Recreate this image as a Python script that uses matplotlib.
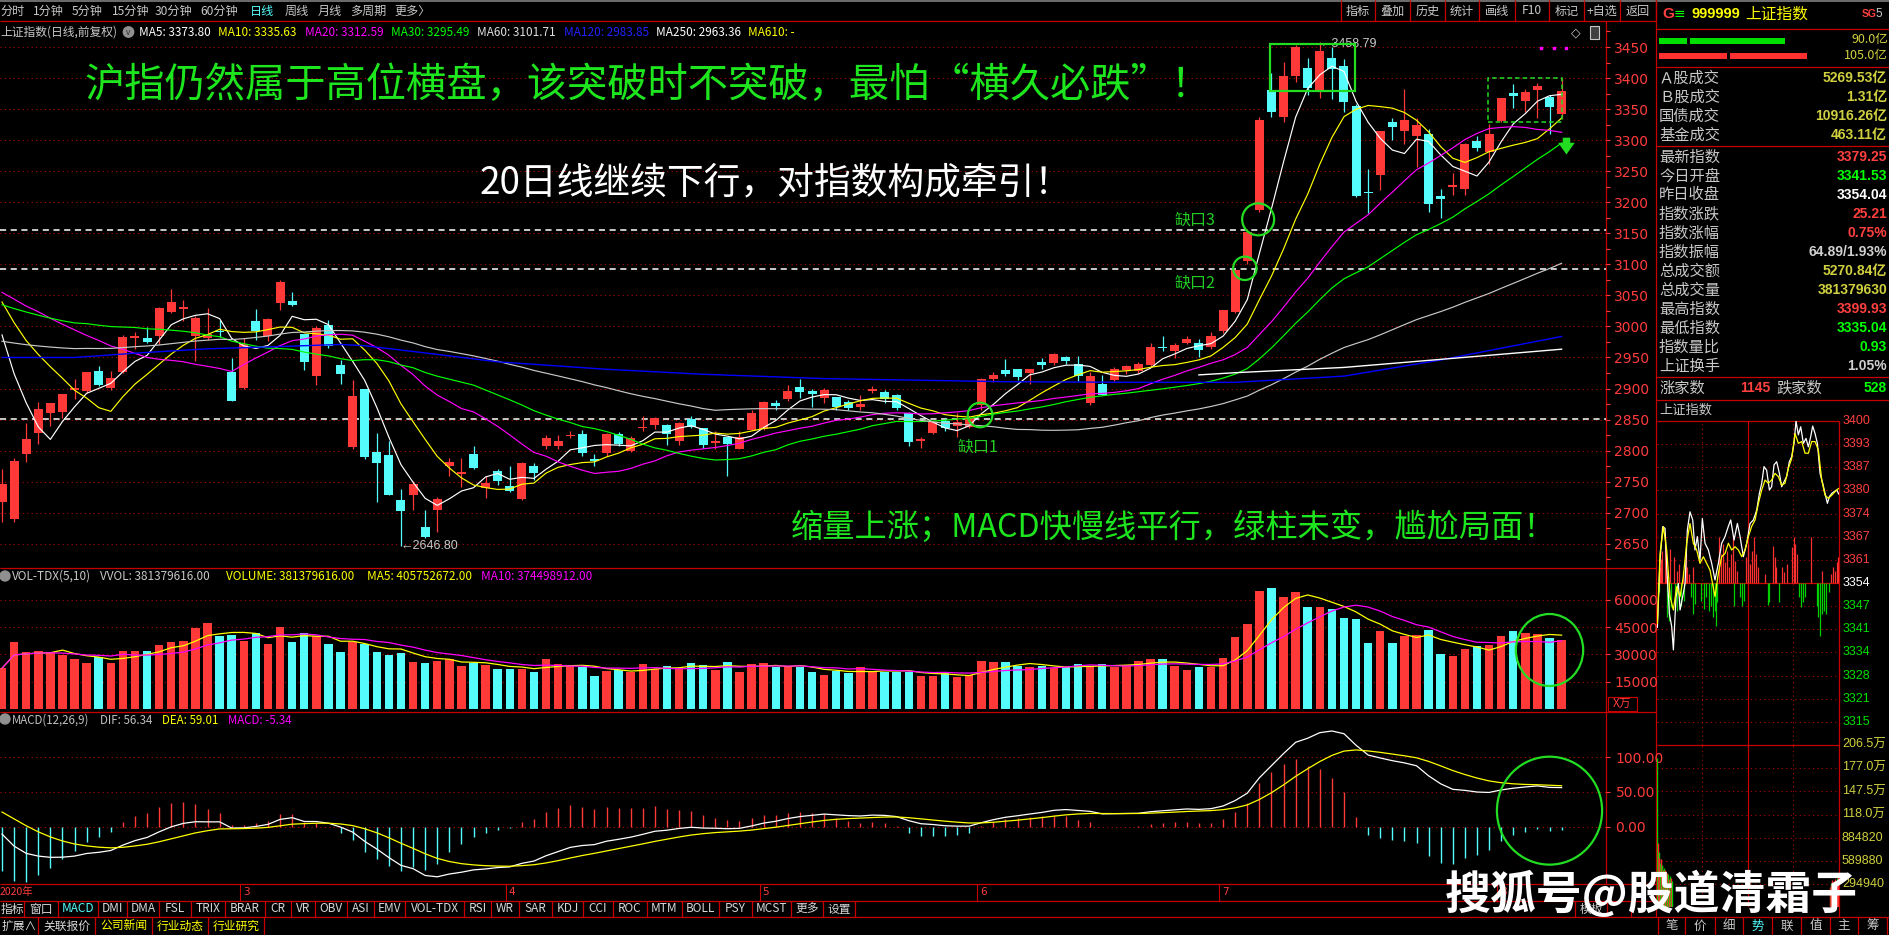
import numpy as np
import pandas as pd
import matplotlib
matplotlib.use("Agg")
import matplotlib.pyplot as plt
from matplotlib.patches import Rectangle, Ellipse
from matplotlib.transforms import blended_transform_factory

plt.rcParams['font.family'] = ['Noto Sans CJK SC', 'DejaVu Sans']
plt.rcParams['axes.unicode_minus'] = False

# ---------------- data ----------------
# closes before the visible window (used only for the moving averages / MACD)
hist_closes = [2958.20, 2975.49, 2991.56, 2978.60, 2978.71, 2964.18, 2909.97, 2914.82, 2905.24, 2909.87,
               2891.34, 2909.20, 2933.99, 2911.05, 2903.64, 2885.29, 2906.17, 2907.06, 2903.19, 2889.69,
               2871.98, 2875.81, 2884.70, 2878.12, 2899.47, 2912.01, 2914.48, 2917.32, 2924.42, 2915.70,
               2967.68, 2984.39, 3022.42, 3017.04, 3017.07, 3004.94, 2962.75, 2982.68, 2981.88, 3007.35,
               3005.04, 3040.02, 3050.12, 3085.20, 3083.79, 3083.41, 3104.80, 3066.89, 3094.88, 3092.29,
               3115.57, 3106.82, 3090.04, 3074.08, 3075.50, 3095.79, 3052.14, 3060.75, 2976.53]

opens = [2716.70, 2690, 2794, 2828, 2861, 2863, 2897, 2896, 2928, 2901, 2927, 2982, 2981, 2984, 3024, 3028, 2984, 2981, 2993, 2926,
         2901, 3008, 2984, 3038, 3041, 2988, 2921, 3002, 2938, 2806, 2899, 2797, 2793, 2720, 2729, 2677, 2704, 2776, 2763, 2794, 2740, 2767,
         2743, 2722, 2775, 2807, 2807, 2824, 2827, 2786, 2796, 2827, 2799, 2837, 2841, 2842, 2816, 2851, 2836, 2812, 2822, 2802, 2833,
         2835, 2877, 2883, 2902, 2896, 2884, 2887, 2879, 2871, 2896, 2895, 2890, 2860, 2815, 2828, 2848, 2839, 2838,
         2874, 2915, 2930, 2931, 2925, 2942, 2941, 2951, 2940, 2876, 2908, 2914, 2930, 2929, 2938, 2966, 2961, 2973, 2973, 2967,
         2992, 3024, 3105, 3188, 3380, 3338, 3403, 3417, 3380, 3432, 3420, 3355, 3216, 3244, 3329, 3315, 3306, 3310, 3210, 3225, 3221, 3299, 3281,
         3331, 3376, 3363, 3380, 3370, 3341.53]
highs = [2770, 2788, 2844, 2878, 2877, 2891, 2915, 2927, 2936, 2928, 2986, 2991, 2999, 3032, 3060, 3042, 3017, 3029, 3011, 2949,
         2982, 3028, 3013, 3074, 3055, 2988, 3001, 3010, 2946, 2913, 2899, 2828, 2816, 2738, 2751, 2704, 2726, 2788, 2788, 2808, 2759, 2771,
         2775, 2782, 2780, 2825, 2825, 2831, 2834, 2795, 2828, 2830, 2823, 2855, 2854, 2843, 2846, 2855, 2837, 2832, 2822, 2832, 2866,
         2880, 2882, 2905, 2915, 2899, 2901, 2887, 2882, 2889, 2904, 2898, 2891, 2863, 2822, 2847, 2852, 2860, 2856,
         2917, 2927, 2948, 2932, 2931, 2949, 2958, 2952, 2953, 2927, 2922, 2934, 2938, 2943, 2973, 2985, 2973, 2984, 2979, 2991,
         3027, 3091, 3157, 3337, 3408, 3426, 3454, 3432, 3458.79, 3450, 3431, 3358, 3253, 3314.5, 3335, 3382, 3335, 3318, 3221, 3247, 3295, 3306, 3326,
         3368.5, 3390, 3382, 3392, 3373, 3399.93]
lows = [2685, 2685, 2781, 2810, 2840, 2852, 2883, 2893, 2904, 2898, 2925, 2963, 2974, 2972, 3022, 3009, 2945, 2978, 2983, 2880,
        2899, 2978, 2976, 3026, 3033, 2930, 2906, 2966, 2907, 2802, 2787, 2718, 2728, 2646.80, 2704, 2659, 2669, 2759, 2741, 2770, 2723, 2744,
        2733, 2721, 2753, 2802, 2802, 2820, 2791, 2776, 2792, 2808, 2797, 2832, 2835, 2809, 2809, 2836, 2804, 2803, 2759, 2802, 2833,
        2834, 2865, 2880, 2885, 2871, 2877, 2866, 2865, 2865, 2893, 2877, 2866, 2808, 2804, 2827, 2832, 2822, 2836,
        2866, 2911, 2921, 2913, 2908, 2932, 2938, 2939, 2912, 2873, 2890, 2912, 2924, 2925, 2934, 2960, 2949, 2971, 2951, 2964,
        2990, 3022, 3100, 3185, 3337, 3329, 3394, 3373, 3368, 3366, 3346, 3209, 3183, 3220, 3301, 3294, 3257, 3185, 3175, 3211, 3211, 3282, 3262,
        3330, 3351, 3345, 3335, 3310, 3335.04]
closes = [2746.61, 2783.29, 2818.09, 2866.51, 2875.96, 2890.49, 2901.67, 2926.90, 2906.07, 2917.01, 2983.62, 2984.97, 2975.40, 3030.15, 3039.67, 3031.23, 3013.05, 2987.93, 2991.33, 2880.30,
          2970.93, 2992.90, 3011.67, 3071.68, 3034.51, 2943.29, 2996.76, 2968.52, 2923.49, 2887.43, 2789.25, 2779.64, 2728.76, 2702.13, 2745.62, 2660.17, 2722.44, 2781.59, 2764.91, 2772.20, 2747.21, 2750.30,
          2734.52, 2780.64, 2763.99, 2820.76, 2815.37, 2825.90, 2796.63, 2783.05, 2827.28, 2811.17, 2819.94, 2838.49, 2852.55, 2827.01, 2843.98, 2838.50, 2808.53, 2815.49, 2810.02, 2822.44, 2860.08,
          2878.14, 2871.52, 2895.34, 2894.80, 2891.56, 2898.05, 2870.34, 2868.46, 2875.42, 2898.58, 2883.74, 2867.92, 2813.77, 2817.97, 2846.55, 2836.80, 2846.22, 2852.35,
          2915.43, 2921.40, 2923.37, 2919.25, 2930.80, 2937.77, 2956.11, 2943.75, 2920.90, 2919.74, 2890.03, 2931.75, 2935.87, 2939.32, 2967.63, 2965.27, 2970.62, 2979.55, 2961.52, 2984.67,
          3025.98, 3090.57, 3152.81, 3332.88, 3345.34, 3403.44, 3450.59, 3383.32, 3443.29, 3414.62, 3361.30, 3210.10, 3214.13, 3314.15, 3320.90, 3333.16, 3325.11, 3196.77, 3205.23, 3227.96, 3294.55, 3286.82, 3310.01,
          3367.97, 3371.69, 3377.56, 3386.46, 3354.04, 3379.25]
# volume, unit = 10^4 hands ("X万")
volumes = [22400, 37000, 31500, 32100, 31500, 29700, 27500, 25500, 28400, 25500,
           32100, 32100, 32100, 35200, 37000, 37300, 44700, 47400, 40100, 40700,
           37500, 41900, 35700, 45200, 37000, 41900, 40100, 35700, 31500, 37000,
           35600, 31500, 29700, 31000, 26000, 25500, 26600, 27500, 23600, 25100,
           24200, 22000, 22000, 22000, 20600, 27500, 24700, 24200, 23000, 18200,
           20900, 21500, 20600, 24700, 22000, 23600, 22300, 25100, 24200, 21500,
           26000, 20600, 24700, 25100, 23300, 23000, 23300, 20600, 18700, 20900,
           19600, 23000, 20600, 20600, 20600, 20600, 17900, 17900, 19600, 17800,
           18700, 26400, 26000, 26000, 23600, 22900, 23600, 22300, 22900, 24700,
           23600, 24700, 23300, 24200, 26400, 27300, 27500, 23600, 21400, 22900,
           23300, 27800, 39400, 46700, 64800, 66300, 61500, 64400, 56300, 56300,
           54800, 49900, 49300, 36500, 42600, 36500, 40100, 40700, 43500, 30200,
           29100, 33100, 34400, 35000, 40022.576, 43000, 41500, 41000, 39238.3744, 38137.9616]

# long moving averages (candle index, value)
ma120_idx = [0, 6, 11, 17, 22, 28, 30, 33, 36, 41, 50, 58, 68, 74, 83, 94, 102, 111, 119, 129]
ma120_val = [2950, 2950, 2957, 2964, 2967, 2971, 2969, 2962, 2955, 2943, 2931, 2923, 2916, 2914, 2911, 2910, 2910, 2920, 2946, 2983.85]
ma250_idx = [99, 102, 111, 119, 129]
ma250_val = [2922, 2925.5, 2934, 2947, 2963.36]

month_labels = ['2020年', '3', '4', '5', '6', '7', '8']
month_start = [0, 20, 42, 63, 81, 101, 124]

ma_legend = [('MA5: 3373.80', '#ffffff'), ('MA10: 3335.63', '#ffff00'), ('MA20: 3312.59', '#ff00ff'),
             ('MA30: 3295.49', '#00ff00'), ('MA60: 3101.71', '#e0e0e0'), ('MA120: 2983.85', '#2020ff'),
             ('MA250: 2963.36', '#ffffff'), ('MA610: -', '#ffff00')]
macd_legend = [('MACD(12,26,9)', '#c0c0c0'), ('DIF: 56.34', '#c0c0c0'), ('DEA: 59.01', '#ffff00'), ('MACD: -5.34', '#ff00ff')]

# intraday (right panel) : minute, price
intra_min = [0.5, 4.0, 7.5, 10.6, 12.8, 16.3, 19.4, 21.6, 25.1, 28.2, 30.4, 33.9, 37.0, 40.0, 43.5, 47.1, 50.1, 53.2, 56.7, 59.8,
             63.3, 67.7, 72.1, 76.5, 80.9, 85.3, 89.7, 94.1, 97.2, 101.6, 106.0, 109.5, 113.9, 118.3, 122.7, 127.1, 131.5, 135.0,
             138.1, 141.1, 144.6, 148.2, 151.2, 154.3, 157.8, 161.4, 164.4, 167.5, 171.0, 174.5, 177.6, 180.7, 183.3, 186.4, 189.5,
             193.0, 196.5, 199.6, 202.7, 205.3, 208.4, 211.5, 215.0, 218.5, 221.6, 224.7, 227.3, 230.4, 233.4, 237.0, 239.6]
intra_price = [3341.5, 3360.5, 3370.0, 3369.5, 3358.6, 3345.4, 3341.7, 3335.1, 3350.2, 3353.9, 3346.4, 3350.2, 3353.9, 3369.0, 3374.2,
               3371.9, 3363.4, 3367.2, 3360.5, 3372.3, 3365.3, 3363.4, 3359.6, 3354.9, 3359.6, 3365.3, 3367.2, 3370.1, 3371.9, 3366.2,
               3370.9, 3367.2, 3361.5, 3365.3, 3370.9, 3371.9, 3374.7, 3379.4, 3382.3, 3387.0, 3386.0, 3380.4, 3381.3, 3387.5, 3388.4,
               3385.1, 3381.3, 3382.7, 3384.2, 3388.4, 3389.8, 3393.6, 3399.9, 3396.0, 3398.3, 3393.6, 3395.0, 3392.6, 3395.5, 3398.5,
               3396.4, 3393.6, 3385.1, 3382.3, 3379.4, 3376.6, 3378.5, 3379.4, 3379.9, 3380.4, 3379.25]
lead_min = [0.5, 4.0, 8.4, 12.8, 17.2, 21.6, 26.0, 30.4, 34.7, 39.1, 43.5, 47.9, 52.3, 56.7, 61.1, 65.5, 69.9, 76.5, 80.9, 85.3, 89.7,
            94.1, 98.5, 102.9, 107.3, 111.7, 116.1, 120.5, 124.9, 129.3, 133.7, 138.1, 142.5, 146.8, 151.2, 155.6, 160.0, 164.4,
            168.8, 173.2, 177.6, 182.0, 186.4, 190.8, 195.2, 199.6, 204.0, 208.4, 212.8, 217.2, 221.6, 226.0, 230.4, 234.8, 239.2]
lead_price = [3342.6, 3362.4, 3370.0, 3363.4, 3350.2, 3346.4, 3353.0, 3350.2, 3355.8, 3365.3, 3370.9, 3365.3, 3363.4, 3359.6, 3361.5,
              3359.6, 3357.7, 3350.2, 3356.8, 3361.5, 3362.4, 3365.3, 3363.4, 3364.3, 3363.4, 3361.5, 3363.4, 3367.2, 3370.1, 3371.9,
              3376.6, 3380.4, 3383.2, 3382.3, 3383.2, 3385.1, 3384.2, 3381.8, 3382.3, 3386.5, 3389.3, 3396.4, 3393.6, 3394.1, 3390.8,
              3390.8, 3394.1, 3394.1, 3391.7, 3383.2, 3378.9, 3378.0, 3378.9, 3379.9, 3380.8]
breadth_min = [4, 4.9, 6.6, 10.6, 11.9, 17.2, 22.4, 26, 28.6, 33.9, 38.3, 40, 42.7, 47.1, 81.8, 84, 86.6, 89.3, 91.9, 94.5, 97.2, 99.8,
               102.4, 106, 117.4, 120, 122.7, 125.3, 128, 130.6, 133.2, 142.5, 152.6, 155.2, 157, 164.4, 167.5, 171, 178, 180.7, 182.5,
               184.2, 202.7, 217.2, 229, 231.7, 234.3, 237, 238.7,
               0.9, 3.1, 13.6, 15.4, 18, 23.3, 26.8, 31.2, 35.6, 44.4, 47.1, 50.6, 58.5, 62, 64.6, 68.2, 70.8, 73.4, 76.1, 77.8, 79.6,
               101.6, 109.5, 112.1, 114.8, 146.9, 148.2, 160.9, 187.7, 190.4, 193, 195.6, 210.6, 212.8, 215.4, 217.6, 220.3, 222.9, 226.4]
breadth_val = [4.4, 6.8, 9.2, 12.9, 8.2, 9.6, 7.3, 3.5, 5.4, 3.5, 8.2, 4.4, 2.5, 4.4, 12.9, 8.2, 11, 5.9, 9.2, 4.4, 8.2, 13.4,
               6.3, 3.5, 7.3, 11, 5.4, 9.2, 12.9, 8.2, 4.4, 2.5, 10.6, 7.3, 4.4, 4.4, 3.0, 5.4, 10.1, 12.9, 11,
               8.2, 12.9, 3.5, 2.5, 4.4, 3.5, 5.9, 7.3,
               -3.1, -2.6, -9.7, -10.7, -6.9, -5.5, -7.8, -6.4, -5.0, -4.1, -8.8, -5.9, -5.0, -7.4, -4.1, -7.8, -6.4, -9.7, -7.8, -12.1, -5.5,
               -6.4, -4.1, -6.4, -5.0, -6.1, -5.5, -5.5, -4.1, -6.9, -5.5, -4.1, -6.4, -9.7, -14.9, -8.8, -7.8, -8.8, -2.6]
ivol_min = [0, 1, 2, 3, 4, 5, 6, 7, 8, 9, 10, 11, 12, 13, 14, 15, 16, 17, 18, 19, 20,
            228, 229, 230, 231, 232, 233, 234, 235, 236, 237, 238, 239]
ivol_val = [1900000, 815000, 700000, 625000, 560000, 610000, 520000, 545000, 480000, 505000, 430000, 470000, 415000, 440000,
            380000, 420000, 360000, 395000, 340000, 372000, 330000,
            260000, 310000, 280000, 350000, 300000, 330000, 290000, 360000, 320000, 380000, 340000, 420000]
ivol_up = [0, 1, 0, 1, 0, 1, 1, 0, 1, 0, 0, 1, 0, 1, 1, 0, 1, 0, 1, 1, 0,
           1, 0, 1, 1, 0, 1, 0, 1, 1, 0, 1, 1]

prev_close = 3354.04
quote_rows = [('最新指数', '3379.25', '#ff4040'), ('今日开盘', '3341.53', '#00ff00'), ('昨日收盘', '3354.04', '#ffffff'),
              ('指数涨跌', '25.21', '#ff4040'), ('指数涨幅', '0.75%', '#ff4040'), ('指数振幅', '64.89/1.93%', '#d0d0d0'),
              ('总成交额', '5270.84亿', '#d0d040'), ('总成交量', '381379630', '#d0d040'), ('最高指数', '3399.93', '#ff4040'),
              ('最低指数', '3335.04', '#00ff00'), ('指数量比', '0.93', '#00ff00'), ('上证换手', '1.05%', '#d0d0d0')]
turnover_rows = [('Ａ股成交', '5269.53亿'), ('Ｂ股成交', '1.31亿'), ('国债成交', '10916.26亿'), ('基金成交', '463.11亿')]
gauge_green = [(1659, 28), (1690, 95)]
gauge_red = [(1659, 68), (1730, 77)]

# ---------------- styling constants ----------------
W, H = 1890, 935
RED = '#ff3838'
CYAN = '#54fcfc'
BORDER = '#c80000'
GRID = '#b00000'
LRED = '#ff3c3c'
GRAY = '#c8c8c8'
GREEN = '#1ee61e'
OLIVE = '#d0d040'
FONT = ['Noto Sans CJK SC', 'DejaVu Sans']
NUMF = ['Liberation Sans', 'Noto Sans CJK SC', 'DejaVu Sans']

fig = plt.figure(figsize=(W / 100, H / 100), dpi=100, facecolor='black')
ui = fig.add_axes([0, 0, 1, 1])
ui.set_xlim(0, W)
ui.set_ylim(H, 0)
ui.axis('off')
ui.set_zorder(0)


def pax(x0, y0, x1, y1, z=2):
    a = fig.add_axes([x0 / W, 1 - y1 / H, (x1 - x0) / W, (y1 - y0) / H])
    a.set_facecolor('none')
    a.set_zorder(z)
    for s in a.spines.values():
        s.set_visible(False)
    a.set_xticks([])
    a.set_yticks([])
    return a


def T(x, y, s, color=GRAY, size=8.7, ha='left', va='center', family=None, weight='normal', z=5):
    ui.text(x, y, s, color=color, fontsize=size, ha=ha, va=va, family=family or FONT, fontweight=weight, zorder=z)


def HL(y, x0, x1, color=BORDER, lw=0.9, ls='-'):
    ui.plot([x0, x1], [y, y], color=color, lw=lw, ls=ls, solid_capstyle='butt')


def VL(x, y0, y1, color=BORDER, lw=0.9, ls='-'):
    ui.plot([x, x], [y0, y1], color=color, lw=lw, ls=ls, solid_capstyle='butt')


n = len(closes)
idx = np.arange(n)
o = np.array(opens, float)
h = np.array(highs, float)
l = np.array(lows, float)
c = np.array(closes, float)
v = np.array(volumes, float)
up = c >= o
col = np.where(up, RED, CYAN)

allc = pd.Series(list(hist_closes) + list(closes))
ma = {k: allc.rolling(k).mean().values[-n:] for k in (5, 10, 20, 30, 60)}
e12 = allc.ewm(span=12, adjust=False).mean()
e26 = allc.ewm(span=26, adjust=False).mean()
dif_all = e12 - e26
dea_all = dif_all.ewm(span=9, adjust=False).mean()
dif = dif_all.values[-n:]
dea = dea_all.values[-n:]
macd = 2 * (dif - dea)

XL = (-2 / 12.09, (1606 - 2) / 12.09)

# ---------------- main price panel ----------------
ax = pax(0, 20.5, 1606, 567.5, z=2)
ax.set_xlim(*XL)
ax.set_ylim(2611.8, 3492.7)
for p in range(2650, 3451, 50):
    ax.axhline(p, color=GRID, lw=0.8, ls=(0, (1, 3)), zorder=0)
for p in (3155, 3092, 2850.5):
    ax.axhline(p, color='white', lw=1.1, ls=(0, (4, 3)), zorder=1)
ax.vlines(idx, l, h, colors=col, lw=0.9, zorder=3)
ax.bar(idx, np.maximum(np.abs(c - o), 1.6), bottom=np.minimum(o, c), width=0.745, color=col, linewidth=0, zorder=4)
ax.plot(idx, ma[5], color='#ffffff', lw=0.85, zorder=5)
ax.plot(idx, ma[10], color='#ffff00', lw=0.85, zorder=5)
ax.plot(idx, ma[20], color='#ff00ff', lw=0.85, zorder=5)
ax.plot(idx, ma[30], color='#00ff00', lw=0.85, zorder=5)
ax.plot(idx, ma[60], color='#c8c8c8', lw=0.85, zorder=5)
ax.plot(ma120_idx, ma120_val, color='#0000ff', lw=1.0, zorder=5)
ax.plot(ma250_idx, ma250_val, color='#ffffff', lw=1.0, zorder=5)
ax.scatter([127.3, 128.4, 129.4], [3449, 3449, 3449], s=3, color='#ff00ff', marker='s', zorder=5)

ax.yaxis.tick_right()
ax.set_yticks(np.arange(2650, 3451, 50))
ax.set_yticks(np.arange(2625, 3476, 25), minor=True)
ax.tick_params(axis='y', which='both', colors=LRED, length=2.9, width=0.8, pad=3, labelsize=10)
ax.tick_params(axis='y', which='minor', labelright=False)
for t in ax.get_yticklabels():
    t.set_fontfamily('DejaVu Sans')

# annotations
ax.text(6.8, 3387.5, '沪指仍然属于高位横盘，该突破时不突破，最怕“横久必跌”！', color=GREEN, fontsize=29,
        va='center', ha='left', zorder=8)
ax.text(39.5, 3230.7, '20日线继续下行，对指数构成牵引！', color='white', fontsize=26.5, va='center', ha='left', zorder=8)
ax.text(65.2, 2675.4, '缩量上涨；MACD快慢线平行，绿柱未变，尴尬局面！', color=GREEN, fontsize=23.2, va='center', ha='left', zorder=8)
ax.text(97.0, 3171.4, '缺口3', color='#22cc22', fontsize=11.5, va='center', ha='left', zorder=8)
ax.text(97.0, 3069.5, '缺口2', color='#22cc22', fontsize=11.5, va='center', ha='left', zorder=8)
ax.text(79.0, 2806.3, '缺口1', color='#22cc22', fontsize=11.5, va='center', ha='left', zorder=8)
for (cx, cy, r) in [(103.9, 3172.5, 16), (102.8, 3093.6, 11.7), (80.9, 2857.4, 12.3)]:
    ax.add_patch(Ellipse((cx, cy), 2 * r / 12.09, 2 * r / 0.621, fill=False, ec='#22dd22', lw=1.6, zorder=7))
ax.add_patch(Rectangle((104.9, 3379.6), 7.0, 75.2, fill=False, ec='#22dd22', lw=1.6, zorder=7))
ax.add_patch(Rectangle((122.9, 3329.8), 6.1, 69.6, fill=False, ec='#22dd22', lw=1.1, ls=(0, (3, 2)), zorder=7))
ax.annotate('', xy=(129.4, 3277), xytext=(129.4, 3304),
            arrowprops=dict(arrowstyle='simple,head_length=0.7,head_width=1.0,tail_width=0.45', color='#22dd22', lw=0,
                            mutation_scale=12, shrinkA=0, shrinkB=0),
            zorder=8)
lo_i = int(np.argmin(l))
hi_i = int(np.argmax(h))
ax.text(lo_i, l[lo_i], '←%.2f' % l[lo_i], color=GRAY, fontsize=9, va='center', ha='left', family=NUMF, zorder=8)
ax.text(hi_i, h[hi_i] - 4, '←%.2f' % h[hi_i], color=GRAY, fontsize=9, va='center', ha='left', family=NUMF, zorder=6)

# ---------------- volume panel ----------------
vax = pax(0, 567.5, 1606, 711.7, z=2)
vax.set_xlim(*XL)
vax.set_ylim(-1484, 77747)
for p in (15000, 30000, 45000, 60000):
    vax.axhline(p, color=GRID, lw=0.8, ls=(0, (1, 3)), zorder=0)
vax.bar(idx, v, width=0.7, color=col, linewidth=0, zorder=3)
vs = pd.Series(v)
vax.plot(idx, vs.rolling(5, min_periods=1).mean(), color='#ffff00', lw=0.9, zorder=4)
vax.plot(idx, vs.rolling(10, min_periods=1).mean(), color='#ff00ff', lw=0.9, zorder=4)
vax.yaxis.tick_right()
vax.set_yticks([15000, 30000, 45000, 60000])
vax.tick_params(axis='y', colors=LRED, length=2.9, width=0.8, pad=3, labelsize=10)
for t in vax.get_yticklabels():
    t.set_fontfamily('DejaVu Sans')
vax.add_patch(Ellipse((128, 32418), 5.57, 39560, fill=False, ec='#22dd22', lw=1.6, zorder=7, clip_on=False))

# ---------------- MACD panel ----------------
mx = pax(0, 711.7, 1606, 883.3, z=2)
mx.set_xlim(*XL)
mx.set_ylim(-81.6, 165.7)
for p in (0, 50, 100):
    mx.axhline(p, color=GRID, lw=0.8, ls=(0, (1, 3)), zorder=0)
mx.vlines(idx, 0, macd, colors=np.where(macd >= 0, RED, CYAN), lw=1.0, zorder=3)
mx.plot(idx, dif, color='white', lw=0.9, zorder=4)
mx.plot(idx, dea, color='#ffff00', lw=0.9, zorder=4)
mx.yaxis.tick_right()
mx.set_yticks([0, 50, 100])
mx.set_yticklabels(['0.00', '50.00', '100.00'])
mx.tick_params(axis='y', colors=LRED, length=2.9, width=0.8, pad=4, labelsize=10)
for t in mx.get_yticklabels():
    t.set_fontfamily('DejaVu Sans')
mx.add_patch(Ellipse((128, 23.1), 8.7, 155.6, fill=False, ec='#22dd22', lw=1.6, zorder=7, clip_on=False))

# ---------------- frame lines / toolbar ----------------
HL(0.6, 0, W, color='#808080', lw=1.2)
HL(20.5, 0, 1656)
HL(567.5, 0, 1656)
HL(711.7, 0, 1656)
HL(884, 0, 1656)
HL(900.7, 0, 1656)
HL(916.7, 0, W)
VL(1606, 20.5, 884)
VL(1656, 0, 917)

tb = [('分时', 0), ('1分钟', 33), ('5分钟', 72), ('15分钟', 112), ('30分钟', 155), ('60分钟', 200), ('日线', 250),
      ('周线', 285), ('月线', 318), ('多周期', 350), ('更多〉', 394)]
for s, x in tb:
    T(x, 11, s, color=CYAN if s == '日线' else GRAY, size=8.7)
btn_edges = [1341, 1375, 1410, 1445, 1479, 1515, 1549, 1584, 1620, 1656]
btn_lbl = ['指标', '叠加', '历史', '统计', '画线', 'F10', '标记', '+自选', '返回']
for e in btn_edges:
    VL(e, 0, 20.5)
for i, s in enumerate(btn_lbl):
    T((btn_edges[i] + btn_edges[i + 1]) / 2, 11, s, size=8.7, ha='center')

# MA legend
T(0, 32, '上证指数(日线,前复权)', size=8.5)
ui.add_patch(plt.Circle((128.5, 32), 5.2, color='#909090', zorder=5))
T(128.5, 32.5, 'v', color='#303030', size=6, ha='center')
ma_x = [139, 218, 305, 391, 477, 564, 656, 748]
for (s, cc), x in zip(ma_legend, ma_x):
    T(x, 32, s, color=cc, size=8.5)
T(1576, 33, '◇', color=GRAY, size=9, ha='center', family=['DejaVu Sans'])
ui.add_patch(Rectangle((1590, 26), 9, 13, fill=True, fc='#404040', ec=GRAY, lw=0.8, zorder=5))

# volume legend
ui.add_patch(plt.Circle((5, 576), 5, color='#909090', zorder=5))
vol_leg = [('VOL-TDX(5,10)', GRAY, 12), ('VVOL: %.2f' % (v[-1] * 1e4), GRAY, 100),
           ('VOLUME: %.2f' % (v[-1] * 1e4), '#ffff00', 226),
           ('MA5: %.2f' % (v[-5:].mean() * 1e4), '#ffff00', 367),
           ('MA10: %.2f' % (v[-10:].mean() * 1e4), '#ff00ff', 481)]
for s, cc, x in vol_leg:
    T(x, 576, s, color=cc, size=8.5)
T(1622, 703.5, 'X万', color=LRED, size=8.5, ha='center')
ui.add_patch(Rectangle((1608, 696.5), 29, 14, fill=False, ec=BORDER, lw=0.8, zorder=5))

# MACD legend
ui.add_patch(plt.Circle((5, 719), 5, color='#909090', zorder=5))
for (s, cc), x in zip(macd_legend, [12, 100, 162, 228]):
    T(x, 720, s, color=cc, size=8.3)

# month axis
for lab, i0 in zip(month_labels, month_start):
    cx = 2 + 12.09 * i0
    if i0 == 0:
        T(0, 892, lab, color=LRED, size=7.5)
    else:
        VL(cx - 4, 884, 900.7, color=BORDER, lw=0.8)
        T(cx - 1, 892, lab, color=LRED, size=7.5, family=['DejaVu Sans'])

# bottom tabs
tab_edges = [0, 24, 58, 98, 127, 159, 191, 225, 265, 291, 315, 347, 374, 405, 464, 491, 519, 552, 583, 613, 647, 682,
             719, 752, 791, 823, 855]
tab_lbl = ['指标', '窗口', 'MACD', 'DMI', 'DMA', 'FSL', 'TRIX', 'BRAR', 'CR', 'VR', 'OBV', 'ASI', 'EMV', 'VOL-TDX',
           'RSI', 'WR', 'SAR', 'KDJ', 'CCI', 'ROC', 'MTM', 'BOLL', 'PSY', 'MCST', '更多', '设置']
for e in tab_edges[1:]:
    VL(e, 900.7, 916.7)
for i, s in enumerate(tab_lbl):
    T((tab_edges[i] + tab_edges[i + 1]) / 2, 909, s, color=CYAN if s == 'MACD' else '#d8d8d8', size=8.5, ha='center')
tab2_edges = [0, 38, 95, 152, 208, 264]
tab2_lbl = ['扩展∧', '关联报价', '公司新闻', '行业动态', '行业研究']
tab2_col = ['#d8d8d8', '#d8d8d8', '#ffff00', '#ffff00', '#ffff00']
for e in tab2_edges[1:]:
    VL(e, 916.7, 935)
for i, s in enumerate(tab2_lbl):
    T((tab2_edges[i] + tab2_edges[i + 1]) / 2, 926, s, color=tab2_col[i], size=8.5, ha='center')
for e in (1575, 1607, 1631):
    VL(e, 900.7, 916.7)
T(1591, 909, '模板', size=8.5, ha='center')

# ---------------- right panel ----------------
T(1662, 14, 'G', color='#ff4040', size=11, family=NUMF, weight='bold')
T(1679, 14, '≡', color='#00ff00', size=10, ha='center', family=['DejaVu Sans'])
T(1692, 14, '999999', color='#ffff00', size=10.5, family=NUMF, weight='bold')
T(1745, 14, '上证指数', color='#ffff00', size=11.3)
T(1862, 14, 'SG', color='#ff4040', size=7.5, family=NUMF, weight='bold')
T(1875, 14, '5', color=GRAY, size=8.5, family=NUMF)
HL(29, 1656, W)
for x0, wd in gauge_green:
    ui.add_patch(Rectangle((x0, 38), wd, 6, color='#00e000', lw=0, zorder=4))
for x0, wd in gauge_red:
    ui.add_patch(Rectangle((x0, 53), wd, 6, color='#ff3030', lw=0, zorder=4))
T(1888, 40, '90.0亿', color=OLIVE, size=9, ha='right')
T(1888, 55, '105.0亿', color=OLIVE, size=9, ha='right')
HL(67, 1656, W)
for k, (lab, val) in enumerate(turnover_rows):
    y = 78 + 19 * k
    T(1659, y, lab, color=GRAY, size=11)
    T(1887, y, val, color=OLIVE, size=10, ha='right', family=NUMF, weight='bold')
HL(146, 1656, W)
for k, (lab, val, cc) in enumerate(quote_rows):
    y = 157 + 19 * k
    T(1659, y, lab, color=GRAY, size=11)
    T(1887, y, val, color=cc, size=10, ha='right', family=NUMF, weight='bold')
HL(377, 1656, W)
T(1659, 388, '涨家数', color=GRAY, size=11)
T(1740, 388, '1145', color='#ff4040', size=10, family=NUMF, weight='bold')
T(1776, 388, '跌家数', color=GRAY, size=11)
T(1887, 388, '528', color='#00ff00', size=10, ha='right', family=NUMF, weight='bold')
HL(400, 1656, W)
T(1659, 410, '上证指数', color=GRAY, size=9.5)

# intraday price
ia = pax(1657, 421, 1839, 745, z=2)
ia.set_xlim(0, 240)
ia.set_ylim(3308.15, 3399.93)
step = (3399.93 - prev_close) / 7
tr = blended_transform_factory(ia.transAxes, ia.transData)
for k in range(-6, 8):
    p = prev_close + k * step
    if k != 0:
        ia.axhline(p, color=GRID, lw=0.8, ls=(0, (1, 3)), zorder=0)
    cc = '#ff4040' if k > 0 else ('#ffffff' if k == 0 else '#00e000')
    ia.text(1 + 4 / 182, p, '%.0f' % p, transform=tr, color=cc, fontsize=9, va='center', ha='left',
            family=NUMF, clip_on=False)
ia.axhline(prev_close, color=BORDER, lw=0.9, zorder=1)
for m in (60, 180):
    ia.axvline(m, color=GRID, lw=0.8, ls=(0, (1, 3)), zorder=0)
ia.axvline(120, color=BORDER, lw=0.9, zorder=0)
bm = np.array(breadth_min)
bv = np.array(breadth_val)
ia.vlines(bm, prev_close, prev_close + bv, colors=np.where(bv > 0, '#ff3030', '#00d000'), lw=0.9, zorder=2)
ia.plot(intra_min, intra_price, color='white', lw=0.9, zorder=3)
ia.plot(lead_min, lead_price, color='#ffff00', lw=0.9, zorder=4)

# intraday volume
iv = pax(1657, 745, 1839, 907.4, z=2)
iv.set_xlim(0, 240)
iv.set_ylim(0, 2064580)
trv = blended_transform_factory(iv.transAxes, iv.transData)
for k in range(1, 8):
    val = 294940 * k
    if k < 7:
        iv.axhline(val, color=GRID, lw=0.8, ls=(0, (1, 3)), zorder=0)
    lab = ('%.1f万' % (val / 1e4)) if val >= 1e6 else '%d' % val
    iv.text(1 + 3 / 182, val, lab, transform=trv, color=OLIVE, fontsize=9, va='center', ha='left',
            family=NUMF, clip_on=False)
for m in (60, 180):
    iv.axvline(m, color=GRID, lw=0.8, ls=(0, (1, 3)), zorder=0)
iv.axvline(120, color=BORDER, lw=0.9, zorder=0)
iv.vlines(ivol_min, 0, ivol_val, colors=np.where(np.array(ivol_up) == 1, '#ff3030', '#00d000'), lw=1.0, zorder=2)

HL(421, 1657, 1839)
HL(745, 1657, 1839)
VL(1839, 421, 917)

# bottom-right buttons
br_edges = [1658, 1685, 1715, 1743, 1772, 1801, 1830, 1858, 1887]
br_lbl = ['笔', '价', '细', '势', '联', '值', '主', '筹']
for e in br_edges:
    VL(e, 916.7, 935)
for i, s in enumerate(br_lbl):
    T((br_edges[i] + br_edges[i + 1]) / 2, 926, s, color=CYAN if s == '势' else GRAY, size=9, ha='center')

# watermark
fig.text(1651 / W, 1 - 895 / H, '搜狐号@股道清霜子', color='white', fontsize=33, fontweight='bold',
         ha='center', va='center', family=FONT, zorder=20)

fig.savefig('out.png', dpi=100, facecolor='black')
